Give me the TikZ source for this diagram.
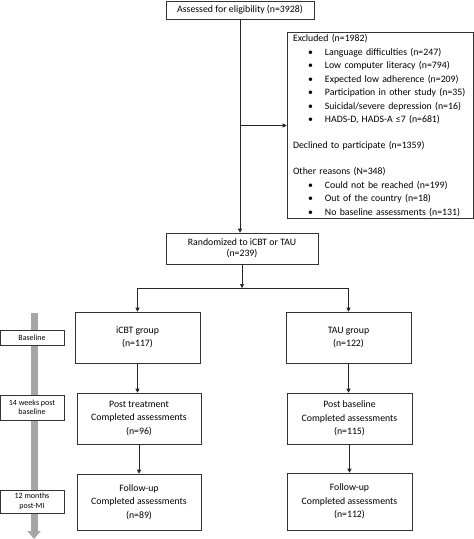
\documentclass[tikz,border=0pt]{standalone}
\usepackage{fontspec}
\setmainfont{Carlito}
\usetikzlibrary{arrows.meta}

\newcommand{\exitem}[1]{\hspace*{15pt}\makebox[17pt][l]{\textbullet}#1}

\tikzset{
	box/.style={draw=black!80, line width=0.6pt, align=center, inner sep=2pt, font=\fontsize{9.8}{13.5}\selectfont},
	tbox/.style={draw=black!80, fill=white, line width=0.6pt, align=center, inner sep=1pt, minimum width=64pt, font=\fontsize{8}{9.4}\selectfont},
	arr/.style={-{Triangle[width=4pt,length=4pt]}, line width=0.6pt, draw=black!85},
	con/.style={line width=0.6pt, draw=black!85}
}

\begin{document}
\begin{tikzpicture}[x=1pt,y=-1pt]
	\useasboundingbox (0,0) rectangle (474,539);
	% time line
	\coordinate (tstart) at (34,313);
	\coordinate (tend) at (34,539);
	\draw [line width=7pt, gray!70, -{Triangle[width=13pt,length=8pt]}] (tstart) -- (tend);
	\node[tbox, minimum height=15pt] (tbase) at (32,337.5) {Baseline};
	\node[tbox, minimum height=25pt] (tweek) at (32,407.5) {14 weeks post\\baseline};
	\node[tbox, minimum height=23pt] (tmonth) at (32,501.5) {12 months\\post-MI};

	% enrolment
	\node[box, minimum width=148pt, minimum height=18pt] (assess) at (240,10) {Assessed for eligibility (n=3928)};
	\node[box, align=left, text width=174pt, inner xsep=6pt, inner ysep=2pt, minimum height=183pt] (excl) at (380,125.5) {%
		Excluded (n=1982)\\
		\exitem{Language difficulties (n=247)}\\
		\exitem{Low computer literacy (n=794)}\\
		\exitem{Expected low adherence (n=209)}\\
		\exitem{Participation in other study (n=35)}\\
		\exitem{Suicidal/severe depression (n=16)}\\
		\exitem{HADS-D, HADS-A ≤7 (n=681)}\\[12.6pt]
		Declined to participate (n=1359)\\[12.6pt]
		Other reasons (N=348)\\
		\exitem{Could not be reached (n=199)}\\
		\exitem{Out of the country (n=18)}\\
		\exitem{No baseline assessments (n=131)}};
	\node[box, minimum width=152pt, minimum height=31pt] (rand) at (242,248.5) {Randomized to iCBT or TAU\\[-2.5pt](n=239)};

	% groups
	\node[box, minimum width=125pt, minimum height=51pt] (icbt) at (137.5,337.5) {iCBT group\\(n=117)};
	\node[box, minimum width=125pt, minimum height=51pt] (tau) at (348.5,337.5) {TAU group\\(n=122)};
	\node[box, minimum width=124pt, minimum height=51pt] (posti) at (139,418.5) {Post treatment\\Completed assessments\\(n=96)};
	\node[box, minimum width=125pt, minimum height=51pt] (postt) at (349.5,418.5) {Post baseline\\Completed assessments\\(n=115)};
	\node[box, minimum width=124pt, minimum height=56pt] (fui) at (139,502) {Follow-up\\Completed assessments\\(n=89)};
	\node[box, minimum width=125pt, minimum height=57pt] (fut) at (349.5,501.5) {Follow-up\\Completed assessments\\(n=112)};

	% -
	\draw [arr] (assess.south) -- (assess.south |- rand.north);
	\draw [arr] (assess.south |- excl.west) -- (excl.west);

	% split
	\coordinate (split) at (242,288);
	\draw [arr] (rand.south) -- (split);
	\draw [con] (icbt.north |- split) -- (tau.north |- split);
	\draw [arr] (icbt.north |- split) -- (icbt.north);
	\draw [arr] (tau.north |- split) -- (tau.north);

	% |
	\draw [arr] (icbt.south) -- (icbt.south |- posti.north);
	\draw [arr] (tau.south) -- (tau.south |- postt.north);
	\draw [arr] (posti.south) -- (posti.south |- fui.north);
	\draw [arr] (postt.south) -- (postt.south |- fut.north);
\end{tikzpicture}
\end{document}
